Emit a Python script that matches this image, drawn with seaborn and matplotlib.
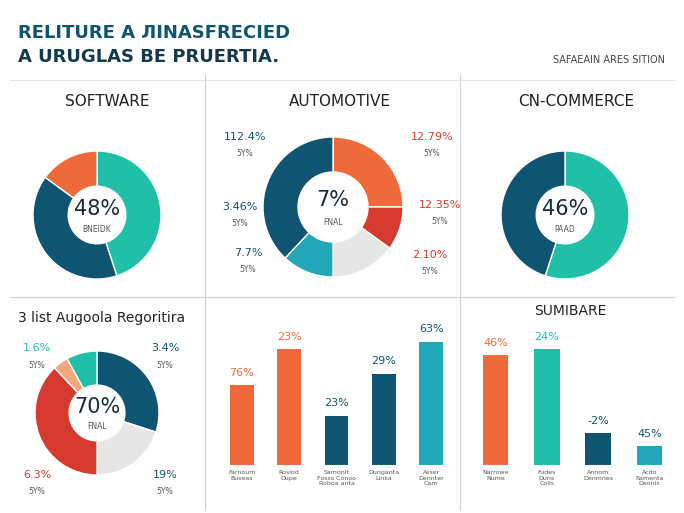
import matplotlib
matplotlib.use("Agg")
import matplotlib.pyplot as plt
import seaborn as sns
import pandas as pd

NAVY="#0f5470"; TEAL="#1fbfa8"; ORANGE="#ef6a3a"; RED="#d63a2f"; GRAY="#e6e6e6"; CYAN="#22a7b8"; LORANGE="#f4a77a"

soft_vals=[45,40,15]; soft_cols=[TEAL,NAVY,ORANGE]
auto_vals=[25,10,15,12,38]; auto_cols=[ORANGE,RED,GRAY,CYAN,NAVY]
ecom_vals=[55,45]; ecom_cols=[TEAL,NAVY]
reg_vals=[30,20,38,4,8]; reg_cols=[NAVY,GRAY,RED,LORANGE,TEAL]

mid_cats=["Farnoum\nBuseas","Roslod\nDupe","Samonit\nFosss Conoo\nRoboa anta","Dunganta\nLinka","Asser\nDennter\nCam"]
mid_vals=[0.55,0.80,0.34,0.63,0.85]
mid_labels=["76%","23%","23%","29%","63%"]
mid_cols=[ORANGE,ORANGE,NAVY,NAVY,CYAN]

sum_cats=["Narrowe\nNume","Fudes\nDuns\nColls","Annom\nDenmnes","Acdo\nRamenta\nDeonis"]
sum_vals=[0.76,0.80,0.22,0.13]
sum_labels=["46%","24%","-2%","45%"]
sum_cols=[ORANGE,TEAL,NAVY,CYAN]

W,H=684,513
fig=plt.figure(figsize=(6.84,5.13),dpi=100)
fig.patch.set_facecolor("white")
def fx(x): return x/W
def fy(y): return 1-y/H

fig.text(fx(18),fy(33),"RELITURE A ЛINASFRECIED",fontsize=13,fontweight="bold",color=NAVY,va="center")
fig.text(fx(18),fy(57),"A URUGLAS BE PRUERTIA.",fontsize=13,fontweight="bold",color="#123a4c",va="center")
fig.text(fx(665),fy(60),"SAFAEAIN ARES SITION",fontsize=7,color="#444",ha="right",va="center")

for x in (205,460):
    fig.add_artist(plt.Line2D([fx(x)]*2,[fy(75),fy(510)],color="#d0d0d0",lw=0.8))
fig.add_artist(plt.Line2D([fx(10),fx(674)],[fy(297)]*2,color="#d0d0d0",lw=0.8))
fig.add_artist(plt.Line2D([fx(10),fx(674)],[fy(80)]*2,color="#e0e0e0",lw=0.6))

def donut(cx,cy,r,vals,cols,big,small,width=0.55):
    ax=fig.add_axes([fx(cx-r),fy(cy+r),2*r/W,2*r/H])
    ax.pie(vals,colors=cols,startangle=90,counterclock=False,
           wedgeprops=dict(width=width,edgecolor="white",linewidth=1))
    ax.set_aspect("auto"); ax.set_xlim(-1,1); ax.set_ylim(-1,1)
    ax.text(0,0.1,big,ha="center",va="center",fontsize=15,color="#1a2a33")
    ax.text(0,-0.22,small,ha="center",va="center",fontsize=5.5,color="#555")
    return ax

fig.text(fx(107),fy(102),"SOFTWARE",fontsize=11,ha="center",va="center",color="#222")
fig.text(fx(340),fy(102),"AUTOMOTIVE",fontsize=11,ha="center",va="center",color="#222")
fig.text(fx(576),fy(102),"CN-COMMERCE",fontsize=11,ha="center",va="center",color="#222")
donut(97,215,64,soft_vals,soft_cols,"48%","BNEIDK")
donut(333,207,70,auto_vals,auto_cols,"7%","FNAL",0.5)
donut(565,215,64,ecom_vals,ecom_cols,"46%","PAAD")

def lab(x,y,t,c):
    fig.text(fx(x),fy(y),t,fontsize=8,color=c,ha="center",va="center")
    fig.text(fx(x),fy(y+17),"5Y%",fontsize=5.5,color="#555",ha="center",va="center")
lab(245,137,"112.4%",NAVY); lab(432,137,"12.79%",RED)
lab(240,207,"3.46%",NAVY); lab(440,205,"12.35%",RED)
lab(248,253,"7.7%",NAVY); lab(430,255,"2.10%",RED)

fig.text(fx(102),fy(318),"3 list Augoola Regoritira",fontsize=10,ha="center",va="center",color="#222")
donut(97,413,62,reg_vals,reg_cols,"70%","FNAL")
lab(37,348,"1.6%",TEAL); lab(165,348,"3.4%",NAVY)
lab(37,475,"6.3%",RED); lab(165,475,"19%",NAVY)

def bars(x0,x1,cats,vals,labels,cols,width):
    ax=fig.add_axes([fx(x0),fy(465),(x1-x0)/W,(465-320)/H])
    df=pd.DataFrame({"c":cats,"v":vals})
    sns.barplot(data=df,x="c",y="v",hue="c",palette=cols,legend=False,ax=ax,width=width,saturation=1)
    for i,(v,t,c) in enumerate(zip(vals,labels,cols)):
        ax.text(i,v+0.05,t,ha="center",va="bottom",fontsize=8,color=c if c!=CYAN else NAVY)
    ax.set_ylim(0,1.0); ax.set_xlabel(""); ax.set_ylabel("")
    ax.set_yticks([]); ax.tick_params(axis="x",labelsize=4.5,length=0,colors="#555")
    for s in ax.spines.values(): s.set_visible(False)
    ax.axhline(0,color="#ccc",lw=0.8)
bars(218,455,mid_cats,mid_vals,mid_labels,mid_cols,0.5)
fig.text(fx(570),fy(311),"SUMIBARE",fontsize=10,ha="center",va="center",color="#222")
bars(470,675,sum_cats,sum_vals,sum_labels,sum_cols,0.5)

fig.savefig("out.png",dpi=100)
